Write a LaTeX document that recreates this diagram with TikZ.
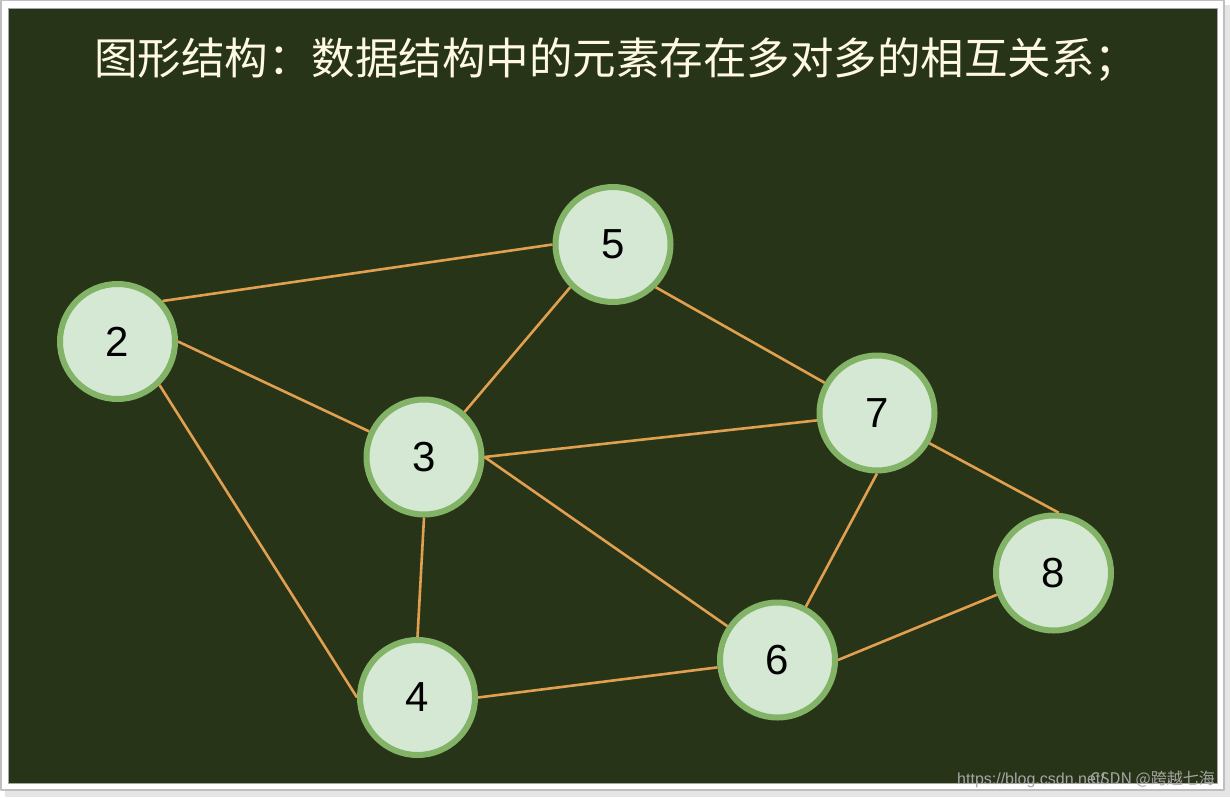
\documentclass[tikz,border=0pt]{standalone}
\usepackage{fontspec}
\setmainfont{Liberation Sans}
\newfontfamily\cjk{Noto Sans CJK SC}
\usetikzlibrary{positioning}
\definecolor{board}{HTML}{283418}
\definecolor{vxfill}{HTML}{D5E8D4}
\definecolor{vxline}{HTML}{82B366}
\definecolor{linkc}{HTML}{E0A050}
\definecolor{titlec}{HTML}{FFF8E2}
\tikzset{
  vertex/.style={circle, draw=vxline, fill=vxfill, line width=6pt, minimum size=115pt,
    inner sep=0pt, font=\fontsize{42}{42}\selectfont},
  link/.style={draw=linkc, line width=2.6pt}
}
\begin{document}
\begin{tikzpicture}[x=1pt, y=-1pt, line join=round]
\useasboundingbox (0,0) rectangle (1230,797);
% card and board
\fill[black!10] (5,5) rectangle (1230,797);
\draw[fill=white, draw=black!25, line width=1.5pt] (0.75,0.75) rectangle (1224,790);
\draw[fill=board, draw=black!35, line width=0.8pt] (8,8) rectangle (1217,783);
\node[text=titlec, font=\cjk\fontsize{43.5}{43.5}\selectfont] (title) at (616,60)
  {图形结构：数据结构中的元素存在多对多的相互关系；};
% vertices
\node[vertex] (v2) at (117.5,341.5) {2};
\node[vertex] (v5) at (613,244.5)   {5};
\node[vertex] (v3) at (424,457)     {3};
\node[vertex] (v7) at (877,413)     {7};
\node[vertex] (v8) at (1053.5,573)  {8};
\node[vertex] (v6) at (777.5,660)   {6};
\node[vertex] (v4) at (417.5,697.5) {4};
% edges
\draw[link] (v2.42)  -- (v5.west);
\draw[link] (v2.east) -- (v3.155);
\draw[link] (v2.-46) -- (v4.west);
\draw[link] (v5.225) -- (v3.48);
\draw[link] (v5.-45) -- (v7.150);
\draw[link] (v3.east) -- (v7.187);
\draw[link] (v3.east) -- (v6.146);
\draw[link] (v3.south) -- (v4.north);
\draw[link] (v7.south) -- (v6.62);
\draw[link] (v7.-30) -- (v8.85);
\draw[link] (v6.east) -- (v8.201);
\draw[link] (v4.east) -- (v6.187);
% watermark
\node[anchor=base west, text=black!35, font=\fontsize{16}{16}\selectfont, inner sep=0pt]
  (wmurl) at (957,784) {https://blog.csdn.net/};
\node[anchor=base east, text=black!35, font=\cjk\fontsize{16}{16}\selectfont, inner sep=0pt]
  (wmname) at (1215,784) {CSDN @跨越七海};
\end{tikzpicture}
\end{document}
